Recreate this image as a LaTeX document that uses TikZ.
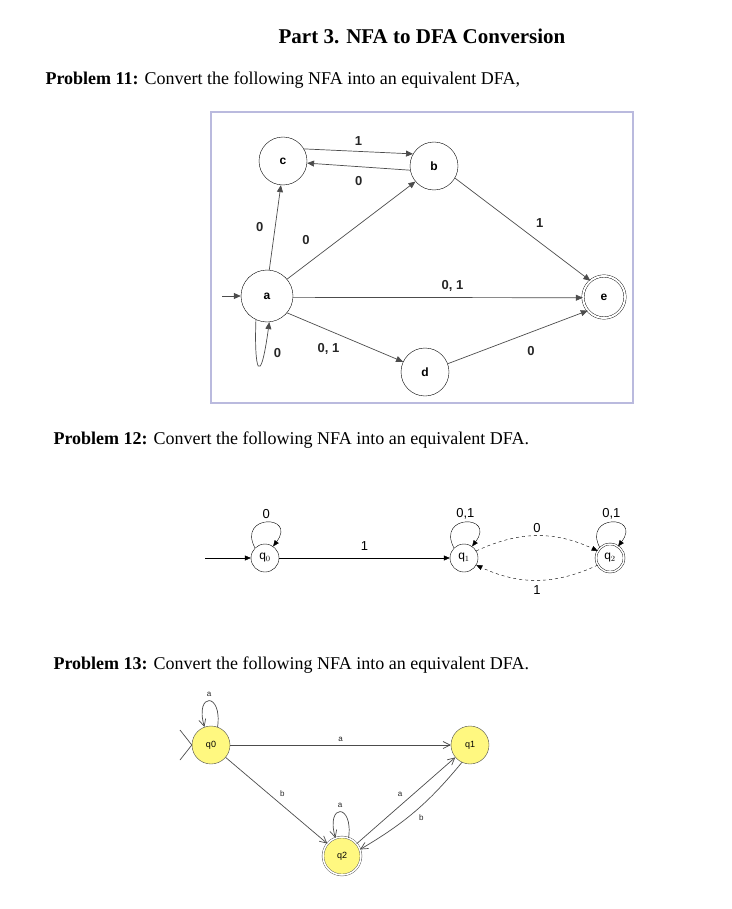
\documentclass[tikz,border=0pt]{standalone}
\usepackage{fontspec}
\setmainfont{Liberation Serif}
\newfontfamily\lab{Liberation Sans}
\usetikzlibrary{arrows.meta}
\begin{document}
\begin{tikzpicture}[x=1pt,y=-1pt,
  st/.style={circle,draw,minimum size=48pt,inner sep=0pt,font=\lab\bfseries\fontsize{12}{12}\selectfont},
  ed/.style={-{Triangle[length=7pt,width=6pt]},gray!60!black,line width=0.7pt},
  lb/.style={font=\lab\bfseries\fontsize{13}{13}\selectfont,gray!30!black},
  st2/.style={circle,draw,minimum size=28pt,inner sep=0pt,font=\lab\fontsize{12}{12}\selectfont},
  ed2/.style={-{Triangle[length=6pt,width=5pt]},thin},
  lb2/.style={font=\lab\fontsize{13}{13}\selectfont},
  st3/.style={circle,draw=gray!60!black,fill=yellow!50,minimum size=38pt,inner sep=0pt,font=\lab\fontsize{9}{9}\selectfont},
  ed3/.style={-{Straight Barb[length=7pt,width=7pt]},gray!60!black,line width=0.7pt},
  lb3/.style={font=\lab\fontsize{8}{8}\selectfont,gray!30!black}]
\useasboundingbox (0,0) rectangle (731,909);
\node[font=\bfseries\fontsize{21}{21}\selectfont] (title) at (422,36) {Part 3. NFA to DFA Conversion};
\node[anchor=west,font=\fontsize{18}{18}\selectfont] (p11) at (42,80) {\textbf{Problem 11:} Convert the following NFA into an equivalent DFA,};
\node[anchor=west,font=\fontsize{18}{18}\selectfont] (p12) at (50,440) {\textbf{Problem 12:} Convert the following NFA into an equivalent DFA.};
\node[anchor=west,font=\fontsize{18}{18}\selectfont] (p13) at (50,665) {\textbf{Problem 13:} Convert the following NFA into an equivalent DFA.};
% Problem 11
\draw[blue!35!gray!40,line width=1.2pt] (211,112) rectangle (633,403);
\node[st] (c) at (283,161) {c};
\node[st] (b) at (434,166) {b};
\node[st,minimum size=52pt] (a) at (267,296) {a};
\node[st] (d) at (425,372) {d};
\node[st,minimum size=42pt,double,double distance=2pt] (e) at (604,297) {e};
\coordinate (i11) at (222,296);
\draw[ed] (i11) -- (a);
\draw[ed] (c.30) -- (b.150) node[lb,midway,above=2pt] {1};
\draw[ed] (b.190) -- (c.-5) node[lb,pos=0.5,below=6pt] {0};
\draw[ed] (a.85) -- (c.-95) node[lb,midway,left=8pt] {0};
\draw[ed] (a.40) -- (b.-140) node[lb,pos=0.25,above left=6pt] {0};
\draw[ed] (a.-3) -- (e.182) node[lb,pos=0.55,above=2pt] {0, 1};
\draw[ed] (b.-30) -- (e.130) node[lb,pos=0.55,above right=3pt] {1};
\draw[ed] (a.-40) -- (d.155) node[lb,pos=0.5,below left=2pt] {0, 1};
\draw[ed] (d.20) -- (e.-140) node[lb,pos=0.5,below right=6pt] {0};
\draw[ed] (a.-115) .. controls (254,370) and (260,390) .. (a.-85) node[lb,pos=0.8,right=6pt] {0};
% Problem 12
\node[st2] (q0) at (265,558) {q$_0$};
\node[st2] (q1) at (464,558) {q$_1$};
\node[st2,double,double distance=1.5pt] (q2) at (610,558) {q$_2$};
\coordinate (i12) at (205,558);
\draw[ed2] (i12) -- (q0);
\draw[ed2] (q0) -- (q1) node[lb2,midway,above=4pt] {1};
\draw[ed2] (q0.135) .. controls +(-18,-34) and +(24,-32) .. (q0.55) node[lb2,midway,above] {0};
\draw[ed2] (q1.135) .. controls +(-18,-34) and +(24,-32) .. (q1.55) node[lb2,midway,above] {0,1};
\draw[ed2] (q2.135) .. controls +(-18,-34) and +(24,-32) .. (q2.55) node[lb2,midway,above] {0,1};
\draw[ed2,dashed] (q1.30) to[bend left=25] node[lb2,midway,above] {0} (q2.150);
\draw[ed2,dashed] (q2.-150) to[bend left=25] node[lb2,midway,below=2pt] {1} (q1.-30);
% Problem 13
\node[st3] (r0) at (211,745) {q0};
\node[st3] (r1) at (470,745) {q1};
\node[st3,double,double distance=1.5pt] (r2) at (342,856) {q2};
\coordinate (t1) at (180,730);
\coordinate (t2) at (180,760);
\draw[gray!60!black,line width=0.7pt] (t1) -- (r0.west) -- (t2);
\draw[ed3] (r0) -- (r1) node[lb3,midway,above] {a};
\draw[ed3] (r0) -- (r2) node[lb3,midway,above right] {b};
\draw[ed3] (r2.40) -- (r1.-140) node[lb3,midway,above left] {a};
\draw[ed3] (r1.-115) to[bend left=10] node[lb3,midway,below right] {b} (r2.20);
\draw[ed3] (r0.70) .. controls +(5,-35) and +(-10,-35) .. (r0.110) node[lb3,midway,above] {a};
\draw[ed3] (r2.70) .. controls +(5,-35) and +(-10,-35) .. (r2.110) node[lb3,midway,above] {a};
\end{tikzpicture}
\end{document}
